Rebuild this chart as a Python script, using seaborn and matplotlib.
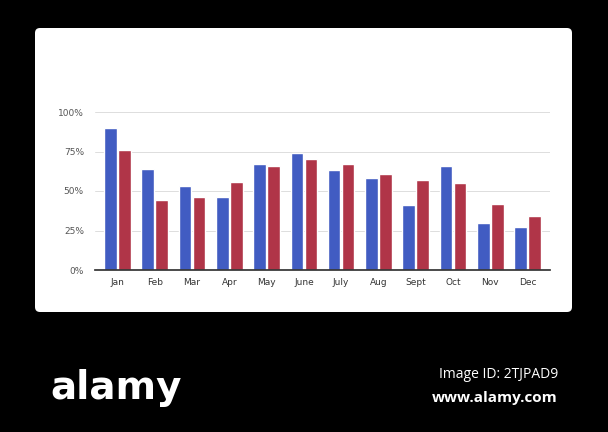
import matplotlib
matplotlib.use("Agg")
import matplotlib.pyplot as plt
from matplotlib.patches import FancyBboxPatch
import pandas as pd
import seaborn as sns

months = ["Jan", "Feb", "Mar", "Apr", "May", "June", "July", "Aug", "Sept", "Oct", "Nov", "Dec"]
series_a = [0.90, 0.64, 0.53, 0.46, 0.67, 0.74, 0.63, 0.58, 0.41, 0.66, 0.30, 0.27]
series_b = [0.76, 0.44, 0.46, 0.56, 0.66, 0.70, 0.67, 0.61, 0.57, 0.55, 0.42, 0.34]

df = pd.DataFrame({
    "month": months * 2,
    "value": series_a + series_b,
    "series": ["A"] * 12 + ["B"] * 12,
})

sns.set_theme(style="white")
fig = plt.figure(figsize=(6.08, 4.32), dpi=100, facecolor="black")

# white card drawn in a background axes
bg = fig.add_axes([0, 0, 1, 1], zorder=-1)
bg.set_xlim(0, 608)
bg.set_ylim(432, 0)
bg.axis("off")
bg.add_patch(FancyBboxPatch((35, 28), 537, 284,
                            boxstyle="round,pad=0,rounding_size=5",
                            facecolor="white", edgecolor="none"))

ax = fig.add_axes([95 / 608, 1 - 270 / 432, 455 / 608, 158 / 432])
ax.patch.set_alpha(0)
sns.barplot(data=df, x="month", y="value", hue="series",
            palette=["#2b4fd8", "#c4203a"], width=0.75, gap=0.1,
            legend=False, ax=ax)
ax.set_ylim(0, 1.0)
ax.set_yticks([0, 0.25, 0.5, 0.75, 1.0])
ax.set_yticklabels(["0%", "25%", "50%", "75%", "100%"], fontsize=6.5, color="#555555")
ax.tick_params(axis="x", labelsize=6.5, colors="#333333", length=0, pad=6)
ax.tick_params(axis="y", length=0, pad=8)
ax.set_xlabel("")
ax.set_ylabel("")
ax.yaxis.grid(True, color="#dddddd", linewidth=0.7)
ax.set_axisbelow(True)
for s in ["top", "right", "left"]:
    ax.spines[s].set_visible(False)
ax.spines["bottom"].set_color("#333333")
ax.set_xlim(-0.6, 11.6)

# watermark texts
fig.text(50 / 608, 1 - 388 / 432, "alamy", color="white", fontsize=28,
         fontweight="bold", va="center", ha="left", family="Liberation Sans Narrow")
fig.text(558 / 608, 1 - 375 / 432, "Image ID: 2TJPAD9", color="white",
         fontsize=10, va="center", ha="right", family="Open Sans")
fig.text(558 / 608, 1 - 398 / 432, "www.alamy.com", color="white",
         fontsize=11, fontweight="bold", va="center", ha="right", family="Open Sans")

fig.savefig("out.png", dpi=100, facecolor="black")
